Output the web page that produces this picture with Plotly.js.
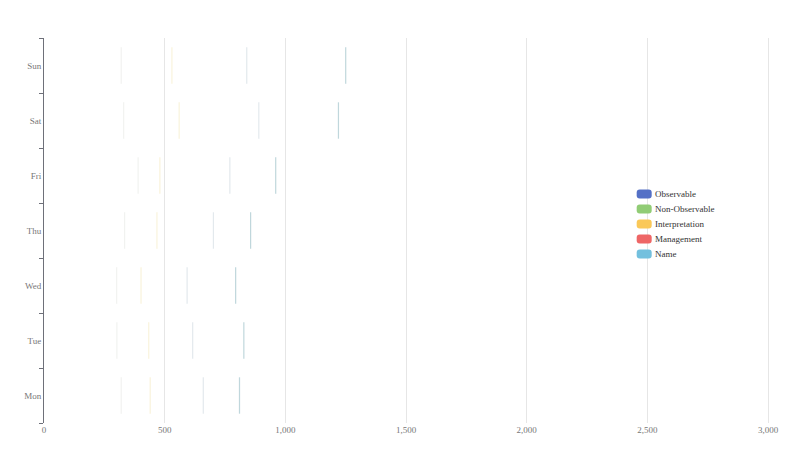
<!DOCTYPE html>
<html>
<head>
<meta charset="utf-8">
<script src="https://cdn.plot.ly/plotly-3.0.1.min.js"></script>
<style>
  html, body { margin: 0; padding: 0; background: #fff; }
  #chart_area { width: 800px; height: 450px; }
</style>
</head>
<body>
<div id="chart_area"></div>
<script>
// days, bottom to top
var days = ['Mon', 'Tue', 'Wed', 'Thu', 'Fri', 'Sat', 'Sun'];

// series names and values (stacked)
var seriesNames = ['Observable', 'Non-Observable', 'Interpretation', 'Management', 'Name'];
var observable = [320, 302, 301, 334, 390, 330, 320];
var nonObservable = [120, 132, 101, 134, 90, 230, 210];
var interpretation = [220, 182, 191, 234, 290, 330, 310];
var management = [150, 212, 201, 154, 190, 330, 410];
var nameValues = [820, 832, 901, 934, 1290, 1330, 1320];

var xTicks = [0, 500, 1000, 1500, 2000, 2500, 3000];

var seriesValues = [observable, nonObservable, interpretation, management, nameValues];
var legendColors = ['#5470c6', '#91cc75', '#fac858', '#ee6666', '#73c0de'];

// faint seam lines at the end of each stacked segment
var edgeColors = [
    'rgba(215, 218, 212, 0.35)',
    'rgba(240, 225, 165, 0.4)',
    'rgba(185, 200, 210, 0.4)',
    'rgba(130, 175, 185, 0.5)'
];

var data = [];
var running = days.map(function () { return 0; });

for (let s = 0; s < seriesValues.length; s++) {
    running = running.map(function (v, i) { return v + seriesValues[s][i]; });
    if (s < edgeColors.length) {
        data.push({
            x: running.slice(),
            y: days,
            type: 'scatter',
            mode: 'markers',
            hoverinfo: 'none',
            showlegend: false,
            name: seriesNames[s],
            marker: {
                symbol: 'line-ns',
                size: 26,
                color: edgeColors[s],
                line: { color: edgeColors[s], width: 1.2 }
            }
        });
    }
}

// hand made legend (rounded swatches)
var shapes = [];
var annotations = [];
var legendTop = 0.5948;
var legendStep = 0.039;
var swatch = 'M -4.5,-4.5 H 4.5 Q 7.5,-4.5 7.5,-1.5 V 1.5 Q 7.5,4.5 4.5,4.5 H -4.5 ' +
    'Q -7.5,4.5 -7.5,1.5 V -1.5 Q -7.5,-4.5 -4.5,-4.5 Z';

for (let i = 0; i < seriesNames.length; i++) {
    var yy = legendTop - i * legendStep;
    shapes.push({
        type: 'path',
        xref: 'paper', yref: 'paper',
        xsizemode: 'pixel', ysizemode: 'pixel',
        xanchor: 0.8267, yanchor: yy,
        path: swatch,
        fillcolor: legendColors[i],
        line: { width: 0 }
    });
    annotations.push({
        xref: 'paper', yref: 'paper',
        x: 0.8395, y: yy,
        xanchor: 'left', yanchor: 'middle',
        text: seriesNames[i],
        showarrow: false,
        font: { family: 'Liberation Serif', size: 9, color: '#333' }
    });
}

var layout = {
    width: 800,
    height: 450,
    margin: { l: 44, r: 30, t: 38, b: 27 },
    showlegend: false,
    paper_bgcolor: '#fff',
    plot_bgcolor: 'rgba(0,0,0,0)',
    font: { family: 'Liberation Serif', size: 9, color: '#6e7079' },
    xaxis: {
        range: [0, 3008],
        tickvals: xTicks,
        tickformat: ',d',
        showgrid: true,
        gridcolor: '#e6e6e6',
        gridwidth: 1,
        zeroline: false,
        showline: false,
        ticks: '',
        tickfont: { family: 'Liberation Serif', size: 9, color: '#777' }
    },
    yaxis: {
        type: 'category',
        categoryorder: 'array',
        categoryarray: days,
        range: [-0.5, days.length - 0.5],
        showgrid: false,
        zeroline: false,
        showline: true,
        linecolor: '#6e7079',
        linewidth: 1,
        ticks: 'outside',
        tickson: 'boundaries',
        ticklen: 4,
        tickcolor: '#6e7079',
        tickfont: { family: 'Liberation Serif', size: 9, color: '#777' }
    },
    shapes: shapes,
    annotations: annotations
};

var config = {
    displayModeBar: false,
    staticPlot: true
};

Plotly.newPlot('chart_area', data, layout, config);
</script>
</body>
</html>
